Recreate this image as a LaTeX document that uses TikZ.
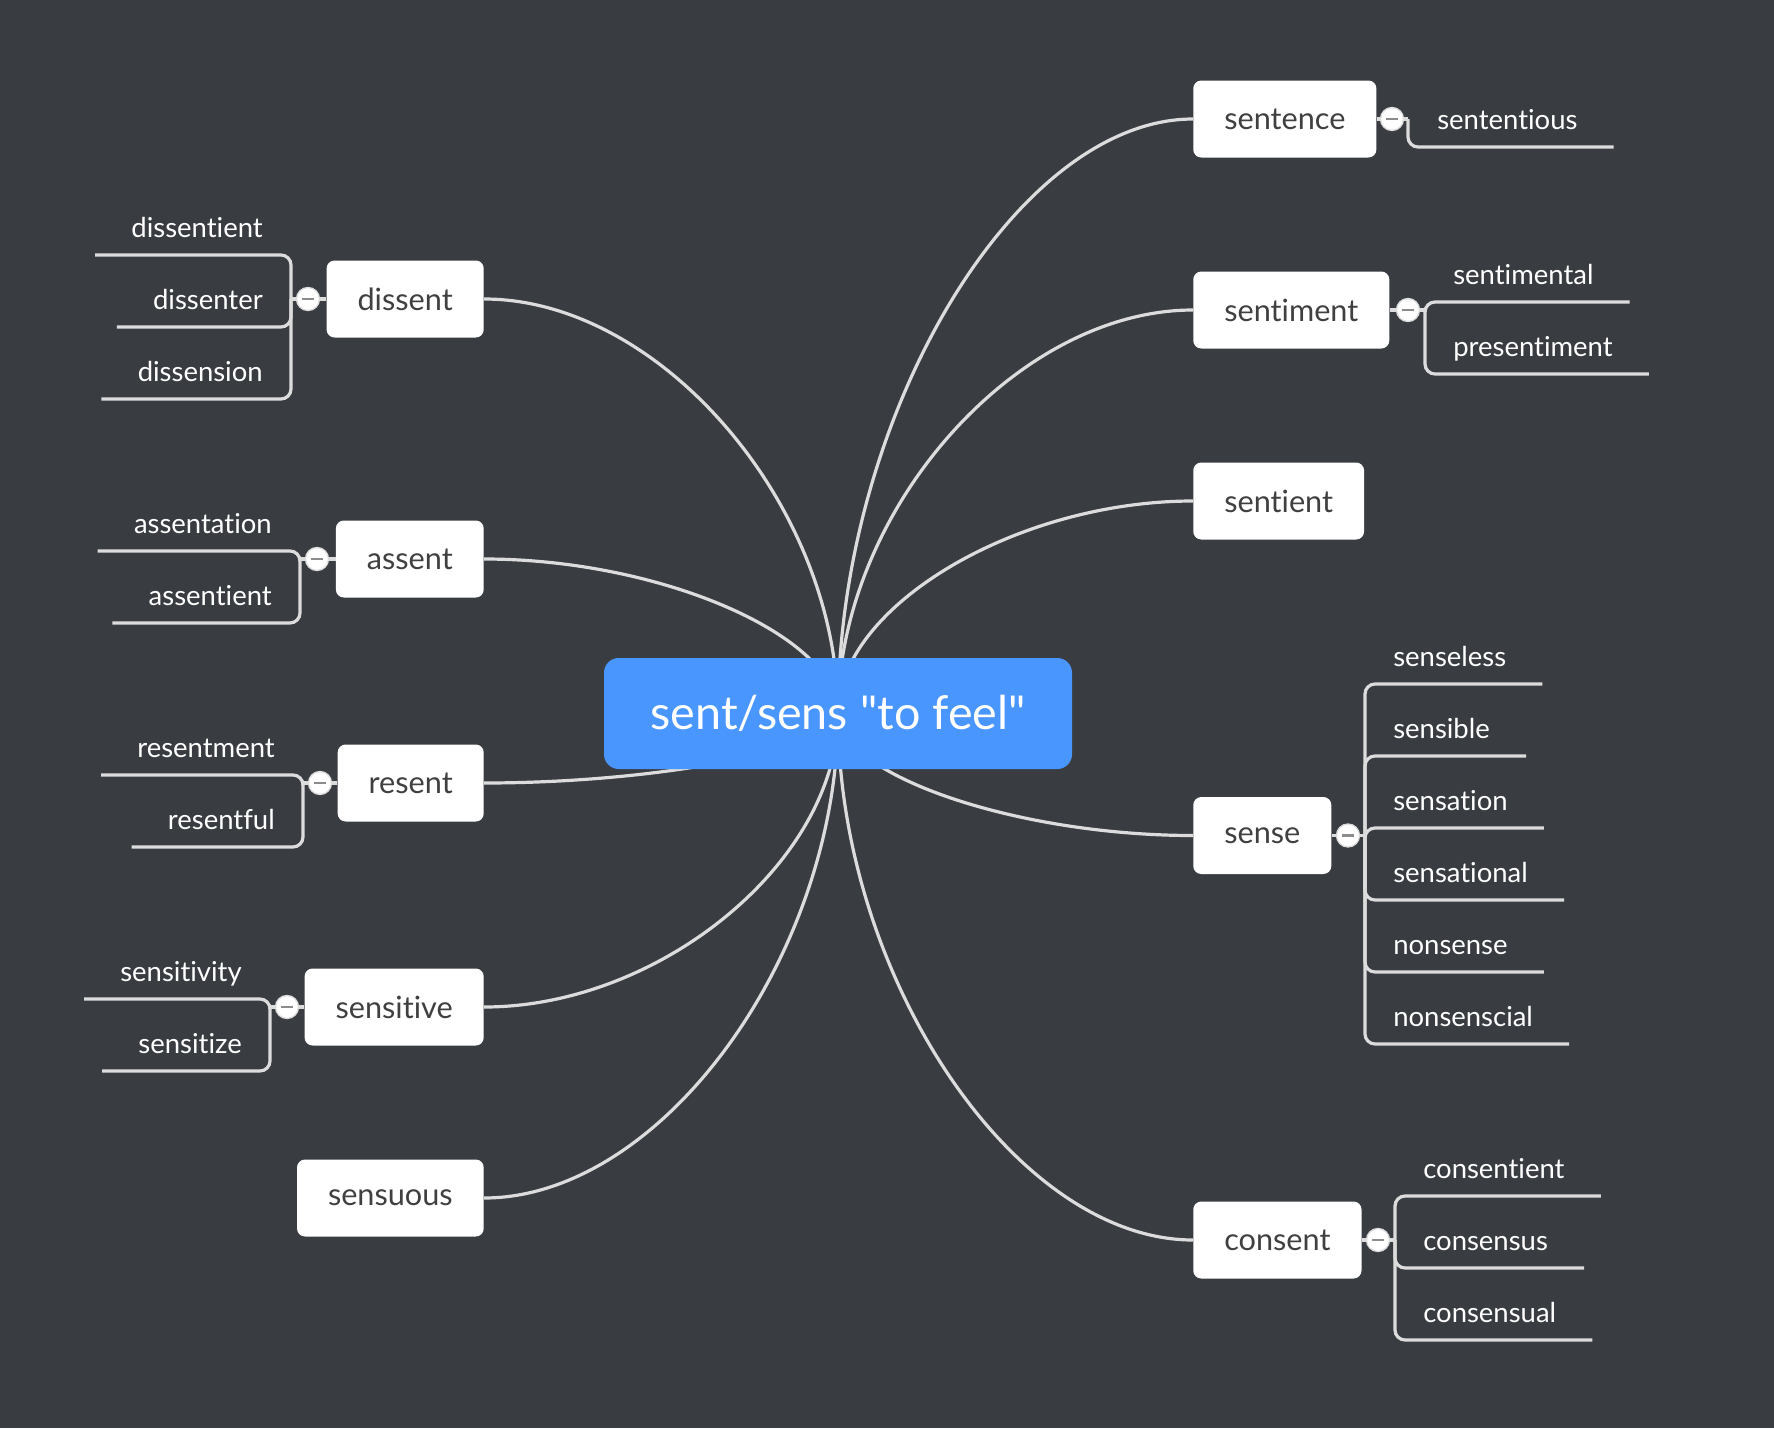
\documentclass[tikz,border=0pt]{standalone}
\usepackage{fontspec}
\setmainfont{Lato}[Ligatures=NoCommon]
\newfontfamily\rootfont{Lato}[Ligatures=NoCommon]
\usepackage{tikz}
\usetikzlibrary{calc,backgrounds}

\definecolor{canvas}{RGB}{57,60,65}
\definecolor{wire}{RGB}{220,220,220}
\definecolor{rootblue}{RGB}{74,150,255}
\definecolor{boxtext}{RGB}{64,64,64}
\definecolor{minusgray}{RGB}{140,140,140}

\tikzset{
  rootbox/.style={rectangle, rounded corners=11pt, fill=rootblue, text=white,
    font=\rootfont\fontsize{35}{40}\selectfont, minimum width=351pt, minimum height=83.25pt, inner sep=0pt},
  topicbox/.style={rectangle, rounded corners=6pt, fill=white, text=boxtext,
    font=\fontsize{23}{28}\selectfont, minimum height=57.75pt, inner xsep=23.25pt, inner ysep=0pt},
  leaf/.style={text=white, font=\fontsize{20.6}{24}\selectfont, inner sep=0pt},
  limb/.style={draw=wire, line width=2.4pt},
  twig/.style={draw=wire, line width=2.4pt, rounded corners=7.5pt},
  fold/.style={circle, fill=white, draw=wire, line width=1pt, minimum size=17.25pt, inner sep=0pt,
    path picture={\draw[minusgray, line width=2.2pt]
      ([xshift=-4.4pt]path picture bounding box.center) -- ([xshift=4.4pt]path picture bounding box.center);}},
}

% curve from the centre of the root to a topic
\newcommand{\rootlink}[1]{%
  \draw[limb] (root.center) .. controls ($(root.center)!0.5!(root.center |- #1)$)
    and ($(#1)!0.5!(root.center |- #1)$) .. (#1);}

\begin{document}
\begin{tikzpicture}[x=0.75pt,y=0.75pt,yscale=-1,xscale=1]
\useasboundingbox (0,0) rectangle (1774,1428);

% Root
\node [rootbox] (root) at (838,713.5) {sent/sens "to feel"};

% Topics, left side
\node [topicbox, anchor=east] (dissent) at (484,299) {dissent};
\node [topicbox, anchor=east] (assent) at (484,559) {assent};
\node [topicbox, anchor=east] (resent) at (484,783) {resent};
\node [topicbox, anchor=east] (sensitive) at (484,1007) {sensitive};
\node [topicbox, anchor=east] (sensuous) at (484,1198) {sensuous};

% Topics, right side
\node [topicbox, anchor=west] (sentence) at (1193,119) {sentence};
\node [topicbox, anchor=west] (sentiment) at (1193,310) {sentiment};
\node [topicbox, anchor=west] (sentient) at (1193,501) {sentient};
\node [topicbox, anchor=west] (sense) at (1193,835.5) {sense};
\node [topicbox, anchor=west] (consent) at (1193,1240) {consent};

% Collapse buttons
\node [fold] (dissentbtn) at (308,299) {};
\node [fold] (assentbtn) at (317,559) {};
\node [fold] (resentbtn) at (320,783) {};
\node [fold] (sensitivebtn) at (287,1007) {};
\node [fold] (sentencebtn) at (1392,119) {};
\node [fold] (sentimentbtn) at (1408,310) {};
\node [fold] (sensebtn) at (1348,835.5) {};
\node [fold] (consentbtn) at (1378,1240) {};

% Junctions of the brackets
\coordinate (dissentjn) at (291,299);
\coordinate (assentjn) at (300,559);
\coordinate (resentjn) at (303,783);
\coordinate (sensitivejn) at (270,1007);
\coordinate (sentencejn) at (1408,119);
\coordinate (sentimentjn) at (1425,310);
\coordinate (sensejn) at (1365,835.5);
\coordinate (consentjn) at (1395,1240);

% Leaves, left side
\node [leaf, anchor=base east] (dissentient) at (263,237) {dissentient};
\node [leaf, anchor=base east] (dissenter) at (263,309) {dissenter};
\node [leaf, anchor=base east] (dissension) at (263,381) {dissension};
\node [leaf, anchor=base east] (assentation) at (272,533) {assentation};
\node [leaf, anchor=base east] (assentient) at (272,605) {assentient};
\node [leaf, anchor=base east] (resentment) at (275,757) {resentment};
\node [leaf, anchor=base east] (resentful) at (275,829) {resentful};
\node [leaf, anchor=base east] (sensitivity) at (242,981) {sensitivity};
\node [leaf, anchor=base east] (sensitize) at (242,1053) {sensitize};

% Leaves, right side
\node [leaf, anchor=base west] (sententious) at (1437,129) {sententious};
\node [leaf, anchor=base west] (sentimental) at (1453,284) {sentimental};
\node [leaf, anchor=base west] (presentiment) at (1453,356) {presentiment};
\node [leaf, anchor=base west] (senseless) at (1393,666) {senseless};
\node [leaf, anchor=base west] (sensible) at (1393,738) {sensible};
\node [leaf, anchor=base west] (sensation) at (1393,810) {sensation};
\node [leaf, anchor=base west] (sensational) at (1393,882) {sensational};
\node [leaf, anchor=base west] (nonsense) at (1393,954) {nonsense};
\node [leaf, anchor=base west] (nonsenscial) at (1393,1026) {nonsenscial};
\node [leaf, anchor=base west] (consentient) at (1423,1178) {consentient};
\node [leaf, anchor=base west] (consensus) at (1423,1250) {consensus};
\node [leaf, anchor=base west] (consensual) at (1423,1322) {consensual};

\begin{scope}[on background layer]
\fill [canvas] (0,0) rectangle (1774,1428);

% Root to topics
\rootlink{dissent.east}
\rootlink{assent.east}
\rootlink{resent.east}
\rootlink{sensitive.east}
\rootlink{sensuous.east}
\rootlink{sentence.west}
\rootlink{sentiment.west}
\rootlink{sentient.west}
\rootlink{sense.west}
\rootlink{consent.west}

% Topics to buttons
\foreach \t in {dissent,assent,resent,sensitive,sentence,sentiment,sense,consent}
  \draw [limb] (\t) -- (\t btn) -- (\t jn);

% Brackets, left side
\foreach \lf in {dissentient,dissenter,dissension}
  \draw [twig] (dissentjn) |- ($(\lf.base west)+(-36,18)$);
\foreach \lf in {assentation,assentient}
  \draw [twig] (assentjn) |- ($(\lf.base west)+(-36,18)$);
\foreach \lf in {resentment,resentful}
  \draw [twig] (resentjn) |- ($(\lf.base west)+(-36,18)$);
\foreach \lf in {sensitivity,sensitize}
  \draw [twig] (sensitivejn) |- ($(\lf.base west)+(-36,18)$);

% Brackets, right side
\draw [twig] (sentencejn) |- ($(sententious.base east)+(36,18)$);
\foreach \lf in {sentimental,presentiment}
  \draw [twig] (sentimentjn) |- ($(\lf.base east)+(36,18)$);
\foreach \lf in {senseless,sensible,sensation,sensational,nonsense,nonsenscial}
  \draw [twig] (sensejn) |- ($(\lf.base east)+(36,18)$);
\foreach \lf in {consentient,consensus,consensual}
  \draw [twig] (consentjn) |- ($(\lf.base east)+(36,18)$);
\end{scope}

\end{tikzpicture}
\end{document}
